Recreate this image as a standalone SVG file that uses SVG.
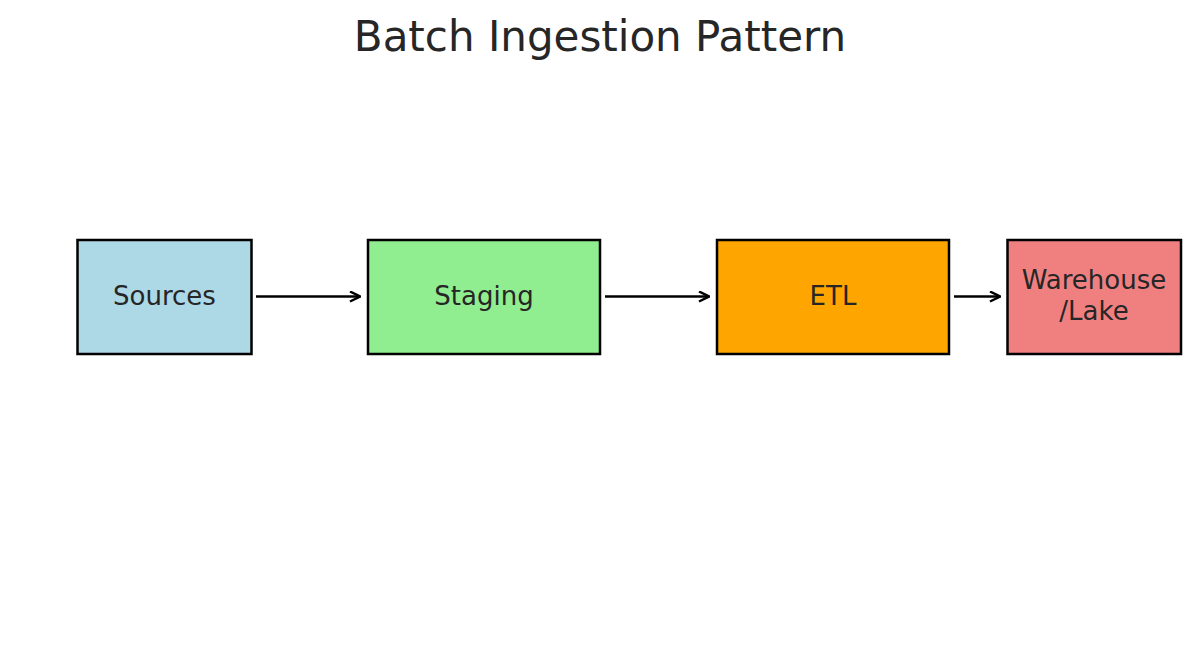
<svg xmlns="http://www.w3.org/2000/svg" width="1200" height="662" viewBox="0 0 1200 662">
<style>
text{font-family:"DejaVu Sans",sans-serif;fill:#262626;text-anchor:middle}
.title{font-size:42px}
.lbl{font-size:26px}
.box{stroke:#000;stroke-width:2.5}
.conn{stroke:#000;stroke-width:2.5;fill:none}
</style>
<defs>
<marker id="ah" viewBox="0 0 12 12" refX="11" refY="6" markerWidth="12" markerHeight="12" markerUnits="userSpaceOnUse" orient="auto">
<path d="M1,1 L11,6 L1,11" fill="none" stroke="#000" stroke-width="2.5"/>
</marker>
</defs>
<rect width="1200" height="662" fill="#fff"/>
<text class="title" x="600" y="51">Batch Ingestion Pattern</text>
<g id="connectors">
<line class="conn" x1="256" y1="296.5" x2="360" y2="296.5" marker-end="url(#ah)"/>
<line class="conn" x1="605" y1="296.5" x2="709" y2="296.5" marker-end="url(#ah)"/>
<line class="conn" x1="954" y1="296.5" x2="1000" y2="296.5" marker-end="url(#ah)"/>
</g>
<g id="sources"><rect class="box" x="77.5" y="240" width="174" height="114" fill="#add8e6"/><text class="lbl" x="164.5" y="305">Sources</text></g>
<g id="staging"><rect class="box" x="368" y="240" width="232" height="114" fill="#90ee90"/><text class="lbl" x="484" y="305">Staging</text></g>
<g id="etl"><rect class="box" x="717" y="240" width="232" height="114" fill="#ffa500"/><text class="lbl" x="833" y="305">ETL</text></g>
<g id="warehouse"><rect class="box" x="1007.5" y="240" width="173.5" height="114" fill="#f08080"/><text class="lbl" x="1094" y="289">Warehouse</text><text class="lbl" x="1094" y="320">/Lake</text></g>
</svg>
